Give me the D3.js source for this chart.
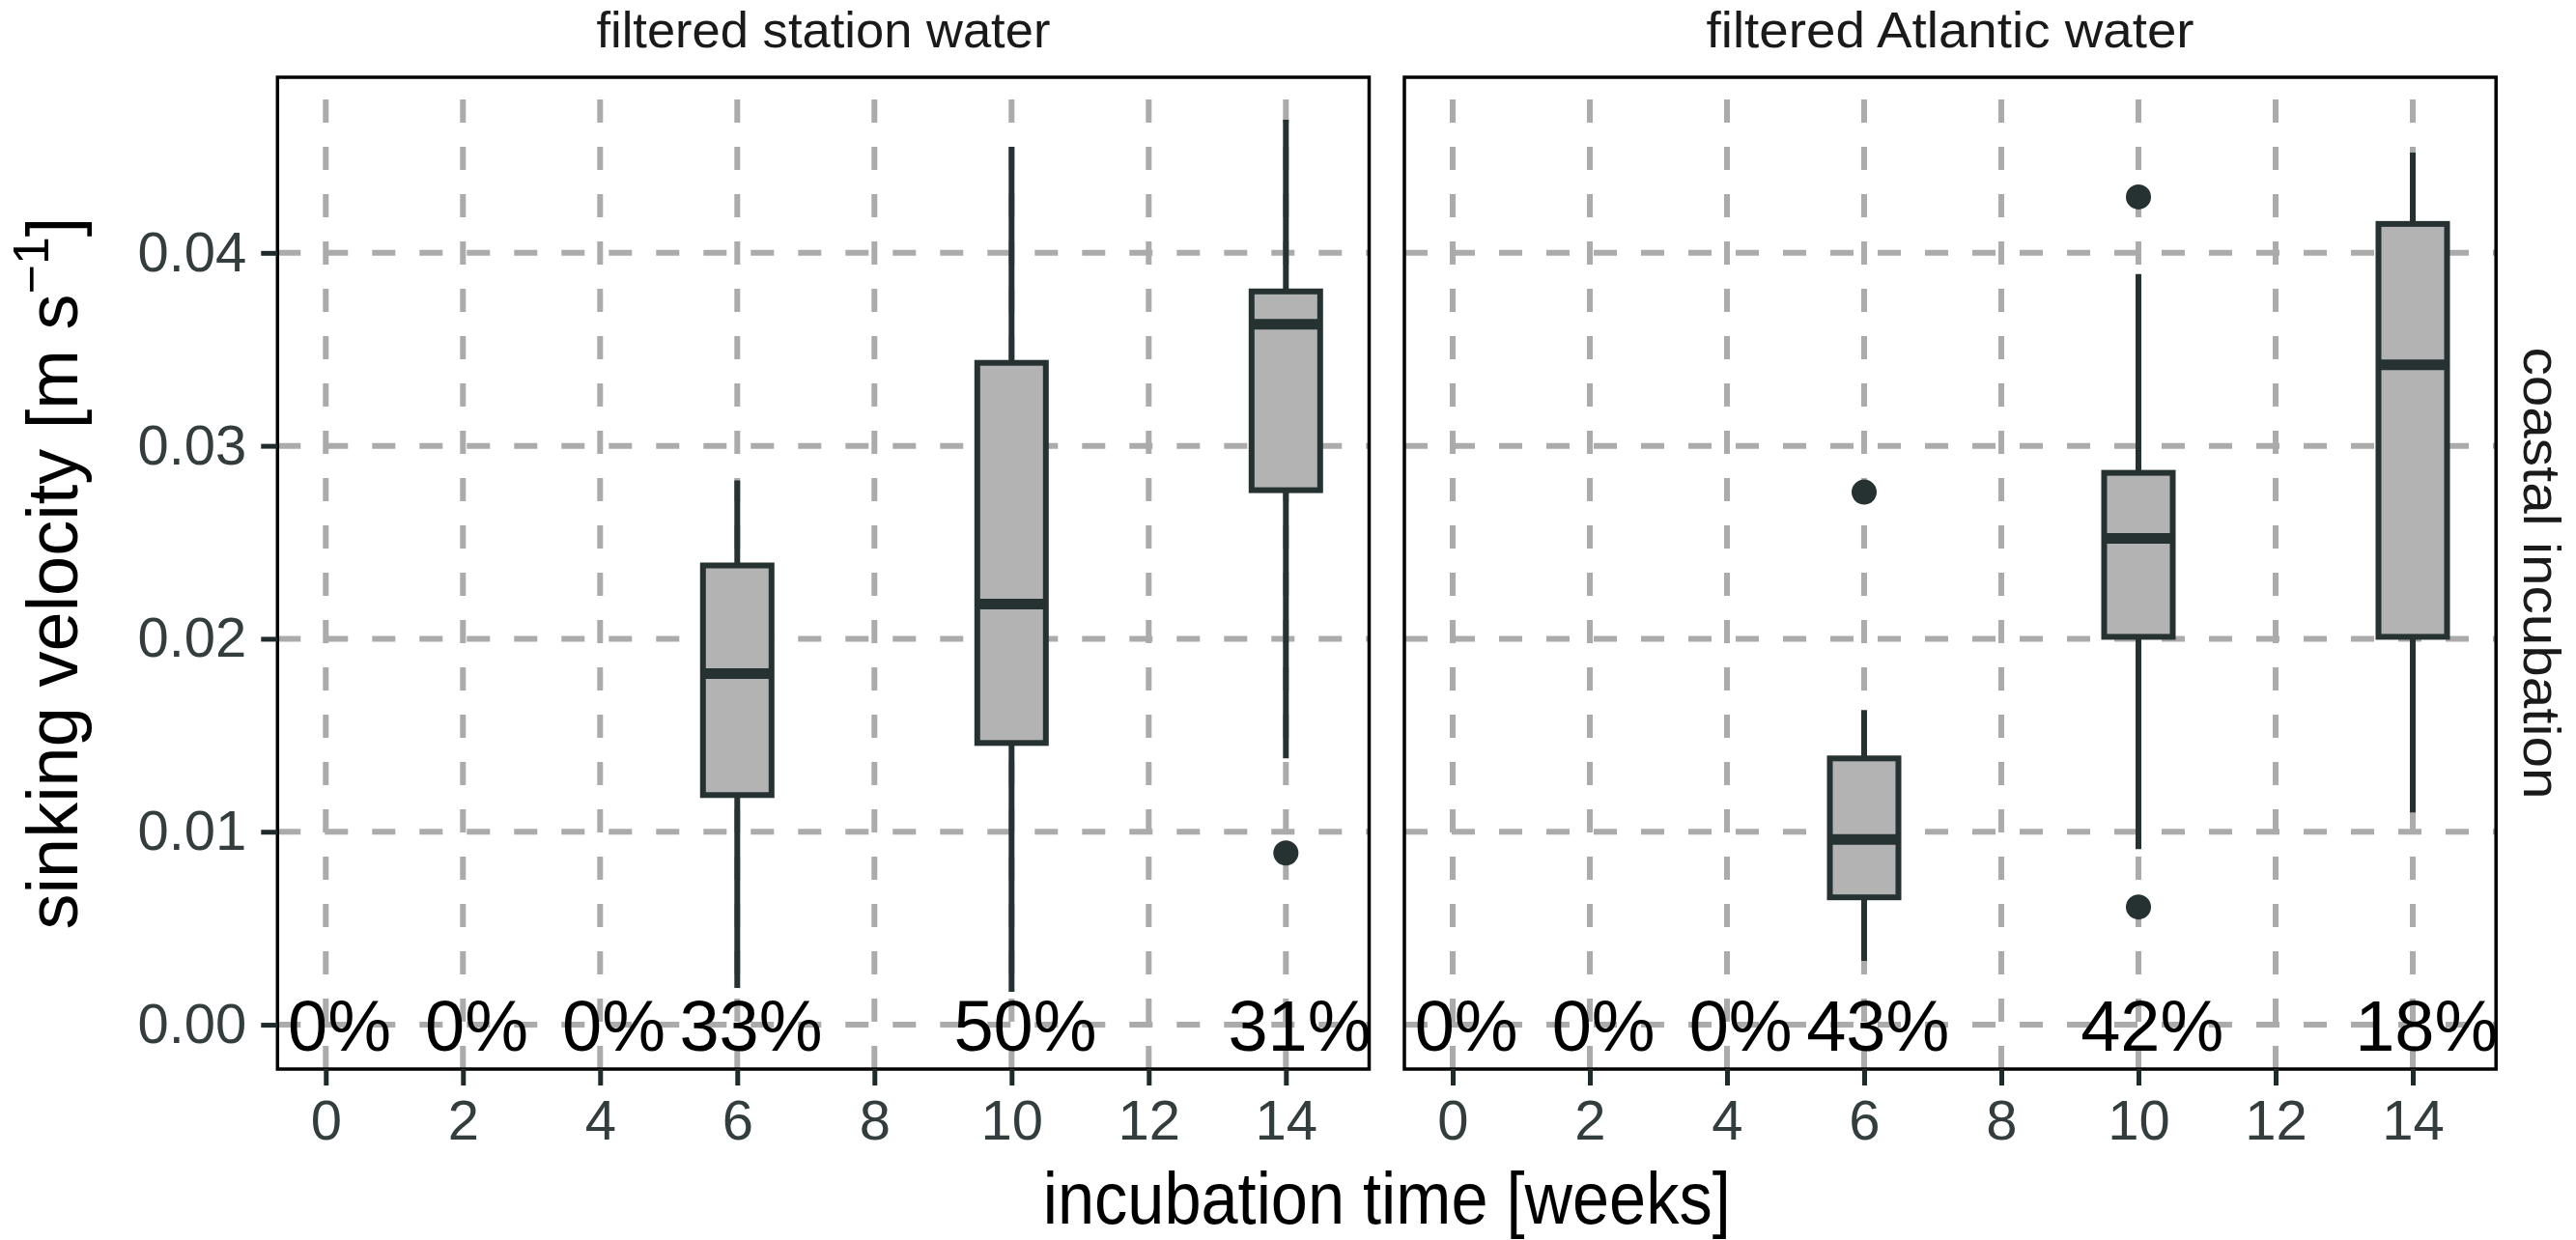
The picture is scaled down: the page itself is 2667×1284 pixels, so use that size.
<!DOCTYPE html>
<html>
<head>
<meta charset="utf-8">
<script src="https://cdn.jsdelivr.net/npm/d3@7"></script>
<style>
  body { margin: 0; background: #fff; }
  text { font-family: "Liberation Sans", Arial, sans-serif; }
</style>
</head>
<body>
<svg id="chart" width="2667" height="1284"></svg>
<script>
// tick values
const xTicks = [0, 2, 4, 6, 8, 10, 12, 14];
const yTicks = [0, 0.01, 0.02, 0.03, 0.04];

// facet labels
const panelNames = ["filtered station water", "filtered Atlantic water"];
const rowName = "coastal incubation";

// boxplot stats, weeks 6, 10, 14
const boxWeeks = [6, 10, 14];

const stationLow  = [0.0019, 0.0017, 0.0138];
const stationQ1   = [0.0119, 0.0146, 0.0277];
const stationMed  = [0.0182, 0.0218, 0.0363];
const stationQ3   = [0.0238, 0.0343, 0.0380];
const stationHigh = [0.0282, 0.0455, 0.0469];
const stationOutWeek = [14];
const stationOutVal  = [0.0089];

const atlanticLow  = [0.0033, 0.0091, 0.0110];
const atlanticQ1   = [0.0066, 0.0201, 0.0201];
const atlanticMed  = [0.0096, 0.0252, 0.0342];
const atlanticQ3   = [0.0138, 0.0286, 0.0415];
const atlanticHigh = [0.0163, 0.0389, 0.0452];
const atlanticOutWeek = [6, 10, 10];
const atlanticOutVal  = [0.0276, 0.0429, 0.0061];

// percentage labels along the bottom
const pctWeeks = [0, 2, 4, 6, 10, 14];
const stationPct  = ["0%", "0%", "0%", "33%", "50%", "31%"];
const atlanticPct = ["0%", "0%", "0%", "43%", "42%", "18%"];

// build a list of panels from the arrays above
function makeBoxes(low, q1, med, q3, high) {
    return boxWeeks.map((w, i) => ({ week: w, low: low[i], q1: q1[i], med: med[i], q3: q3[i], high: high[i] }));
}
const panels = [
    {
        name: panelNames[0],
        boxes: makeBoxes(stationLow, stationQ1, stationMed, stationQ3, stationHigh),
        outliers: stationOutWeek.map((w, i) => ({ week: w, v: stationOutVal[i] })),
        pct: stationPct
    },
    {
        name: panelNames[1],
        boxes: makeBoxes(atlanticLow, atlanticQ1, atlanticMed, atlanticQ3, atlanticHigh),
        outliers: atlanticOutWeek.map((w, i) => ({ week: w, v: atlanticOutVal[i] })),
        pct: atlanticPct
    }
];

const svg = d3.select("#chart");
svg.append("rect").attr("width", 2667).attr("height", 1284).attr("fill", "#fff");

// layout
const panelTop = 80, panelBottom = 1107;
const panelLefts = [287.3, 1454];
const panelW = 1130.2;
const lineCol = "#263131";
const gridCol = "#ababab";
const tickTextCol = "#333d3d";

const y = d3.scaleLinear().domain([-0.0023, 0.0491]).range([panelBottom, panelTop]);

panels.forEach((p, pi) => {
    const x0 = panelLefts[pi];
    const x = d3.scaleLinear().domain([-0.704, 15.214]).range([x0, x0 + panelW]);
    const g = svg.append("g");

    // grid: horizontal left->right, vertical bottom->top
    g.selectAll(".hgrid").data(yTicks).join("line")
        .attr("x1", x0).attr("x2", x0 + panelW)
        .attr("y1", d => y(d)).attr("y2", d => y(d))
        .attr("stroke", gridCol).attr("stroke-width", 6)
        .attr("stroke-dasharray", "24,25");
    g.selectAll(".vgrid").data(xTicks).join("line")
        .attr("x1", d => x(d)).attr("x2", d => x(d))
        .attr("y1", panelBottom).attr("y2", panelTop)
        .attr("stroke", gridCol).attr("stroke-width", 6)
        .attr("stroke-dasharray", "24,25");

    // whiskers
    g.selectAll(".whisk").data(p.boxes).join("line")
        .attr("x1", d => x(d.week)).attr("x2", d => x(d.week))
        .attr("y1", d => y(d.low)).attr("y2", d => y(d.high))
        .attr("stroke", lineCol).attr("stroke-width", 6);

    // boxes
    g.selectAll(".box").data(p.boxes).join("rect")
        .attr("x", d => x(d.week - 0.5))
        .attr("width", d => x(d.week + 0.5) - x(d.week - 0.5))
        .attr("y", d => y(d.q3))
        .attr("height", d => y(d.q1) - y(d.q3))
        .attr("fill", "#b3b3b3")
        .attr("stroke", lineCol).attr("stroke-width", 6);

    // medians
    g.selectAll(".med").data(p.boxes).join("line")
        .attr("x1", d => x(d.week - 0.5)).attr("x2", d => x(d.week + 0.5))
        .attr("y1", d => y(d.med)).attr("y2", d => y(d.med))
        .attr("stroke", lineCol).attr("stroke-width", 11);

    // outliers
    g.selectAll(".out").data(p.outliers).join("circle")
        .attr("cx", d => x(d.week)).attr("cy", d => y(d.v))
        .attr("r", 13).attr("fill", lineCol);

    // percentages
    g.selectAll(".pct").data(pctWeeks).join("text")
        .attr("x", d => x(d + 0.2))
        .attr("y", y(0) + 27)
        .attr("text-anchor", "middle")
        .attr("font-size", 74)
        .attr("fill", "#000")
        .text((d, i) => p.pct[i]);

    // panel border
    g.append("rect")
        .attr("x", x0).attr("y", panelTop)
        .attr("width", panelW).attr("height", panelBottom - panelTop)
        .attr("fill", "none").attr("stroke", "#000").attr("stroke-width", 3.5);

    // x axis
    const xa = svg.append("g").attr("transform", `translate(0,${panelBottom})`)
        .call(d3.axisBottom(x).tickValues(xTicks).tickSize(17).tickPadding(15));
    xa.select(".domain").remove();
    xa.selectAll(".tick line").attr("stroke", "#1f2a2a").attr("stroke-width", 5);
    xa.selectAll(".tick text").attr("font-size", 58).attr("fill", tickTextCol)
        .attr("font-family", '"Liberation Sans", Arial, sans-serif');

    // strip label on top
    svg.append("text")
        .attr("x", x0 + panelW / 2).attr("y", 49)
        .attr("text-anchor", "middle")
        .attr("font-size", 52)
        .attr("textLength", pi === 0 ? 470 : 505)
        .attr("lengthAdjust", "spacingAndGlyphs")
        .attr("fill", "#1a1a1a")
        .text(p.name);

    if (pi === 0) {
        const ya = svg.append("g").attr("transform", `translate(${x0},0)`)
            .call(d3.axisLeft(y).tickValues(yTicks).tickSize(17).tickPadding(15).tickFormat(d3.format(".2f")));
        ya.select(".domain").remove();
        ya.selectAll(".tick line").attr("stroke", "#1f2a2a").attr("stroke-width", 5);
        ya.selectAll(".tick text").attr("font-size", 58).attr("fill", tickTextCol)
            .attr("font-family", '"Liberation Sans", Arial, sans-serif');
    }
});

// right strip label
svg.append("text")
    .attr("transform", `translate(2613,${(panelTop + panelBottom) / 2}) rotate(90)`)
    .attr("text-anchor", "middle")
    .attr("font-size", 54)
    .attr("textLength", 468)
    .attr("lengthAdjust", "spacingAndGlyphs")
    .attr("fill", "#1a1a1a")
    .text(rowName);

// axis titles
svg.append("text")
    .attr("x", (panelLefts[0] + panelLefts[1] + panelW) / 2).attr("y", 1267)
    .attr("text-anchor", "middle")
    .attr("font-size", 76)
    .attr("textLength", 712)
    .attr("lengthAdjust", "spacingAndGlyphs")
    .attr("fill", "#000")
    .text("incubation time [weeks]");

const yt = svg.append("text")
    .attr("transform", `translate(80,${(panelTop + panelBottom) / 2}) rotate(-90)`)
    .attr("text-anchor", "middle")
    .attr("font-size", 74)
    .attr("fill", "#000");
yt.append("tspan").text("sinking velocity [m s");
yt.append("tspan").attr("font-size", 52).attr("dy", -30).text("\u22121");
yt.append("tspan").attr("dy", 30).text("]");
</script>
</body>
</html>
